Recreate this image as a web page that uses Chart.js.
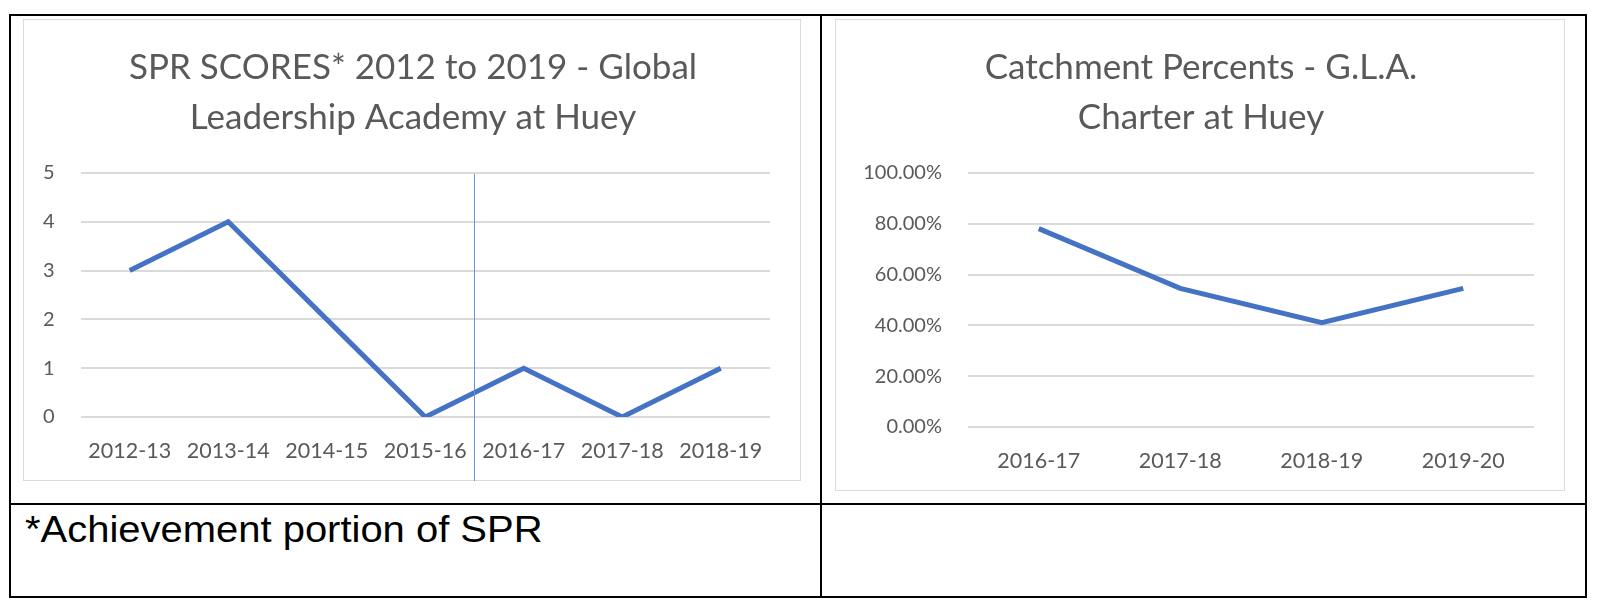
<!DOCTYPE html>
<html lang="en">
  <head>
    <meta charset="UTF-8" />
    <title>SPR Scores and Catchment Percents</title>
    <script src="https://cdn.jsdelivr.net/npm/chart.js"></script>
    <style>
      html, body { margin: 0; padding: 0; background: #fff; }
      body { width: 1600px; height: 607px; position: relative; overflow: hidden; }
      .line { position: absolute; background: #000; }
      .panel { position: absolute; border: 1.5px solid #dcdcdc; box-sizing: border-box; }
      .panel canvas { position: absolute; left: 0; top: 0; }
      .note {
        position: absolute; left: 25px; top: 509px;
        font-family: "Liberation Sans", Arial, sans-serif; font-size: 37px; color: #000;
        transform: scaleX(1.08); transform-origin: left top; white-space: nowrap;
      }
    </style>
  </head>
  <body>
    <!-- table lines -->
    <div class="line" style="left:9px;top:14px;width:1578px;height:2px"></div>
    <div class="line" style="left:9px;top:596px;width:1578px;height:2px"></div>
    <div class="line" style="left:9px;top:14px;width:2px;height:584px"></div>
    <div class="line" style="left:1585px;top:14px;width:2px;height:584px"></div>
    <div class="line" style="left:820px;top:14px;width:2px;height:584px"></div>
    <div class="line" style="left:9px;top:503px;width:1578px;height:2px"></div>

    <div class="panel" style="left:23px;top:19px;width:778px;height:462px">
      <canvas id="sprChart" width="778" height="462"></canvas>
    </div>
    <div class="panel" style="left:835px;top:19px;width:730px;height:472px">
      <canvas id="catchChart" width="730" height="472"></canvas>
    </div>

    <div class="note">*Achievement portion of SPR</div>

    <script>
      // SPR chart data
      const sprYears = ["2012-13", "2013-14", "2014-15", "2015-16", "2016-17", "2017-18", "2018-19"];
      const sprScores = [3, 4, 2, 0, 1, 0, 1];
      const sprTicks = [0, 1, 2, 3, 4, 5];
      const sprBreak = 3.5; // divider between 2015-16 and 2016-17

      // Catchment chart data
      const catchYears = ["2016-17", "2017-18", "2018-19", "2019-20"];
      const catchPercents = [0.781, 0.546, 0.411, 0.546];
      const catchTicks = [0, 0.2, 0.4, 0.6, 0.8, 1.0];

      const blue = "#4472C4";
      const grey = "#595959";
      const gridGrey = "#dadada";
      const font = "Lato, 'Open Sans', sans-serif";

      // thin vertical divider drawn from the x scale
      const dividerPlugin = {
        id: "divider",
        afterDatasetsDraw(chart) {
          const x = chart.scales.x.getPixelForValue(sprBreak);
          const ctx = chart.ctx;
          ctx.save();
          ctx.strokeStyle = "#6a8fd4";
          ctx.lineWidth = 1;
          ctx.beginPath();
          ctx.moveTo(x, chart.chartArea.top + 1);
          ctx.lineTo(x, chart.height - 1);
          ctx.stroke();
          ctx.restore();
        },
      };

      function makeOptions(titleLines, yWidth, ticks, tickFormat) {
        return {
          responsive: false,
          animation: false,
          layout: { padding: 0 },
          plugins: {
            legend: { display: false },
            tooltip: { enabled: false },
            title: {
              display: true,
              text: titleLines,
              color: grey,
              font: { family: font, size: 35, weight: "normal", lineHeight: 50 / 35 },
              padding: { top: 23, bottom: 30 },
            },
          },
          scales: {
            x: {
              offset: true,
              grid: { display: false, drawTicks: false },
              border: { display: false },
              ticks: { color: grey, font: { family: font, size: 21.5 }, padding: 21, maxRotation: 0 },
              afterFit: (s) => { s.height = 65; },
            },
            y: {
              min: ticks[0],
              max: ticks[ticks.length - 1],
              afterBuildTicks: (s) => { s.ticks = ticks.map((v) => ({ value: v })); },
              grid: { color: gridGrey, lineWidth: 2, drawTicks: false },
              border: { display: false },
              ticks: { color: grey, font: { family: font, size: 20 }, padding: 26, callback: tickFormat },
              afterFit: (s) => { s.width = yWidth; },
            },
            // empty right-hand axis, keeps the plot off the right edge
            yRight: {
              position: "right",
              grid: { display: false, drawTicks: false },
              border: { display: false },
              ticks: { display: false },
              afterFit: (s) => { s.width = 32; },
            },
          },
        };
      }

      new Chart(document.getElementById("sprChart"), {
        type: "line",
        data: {
          labels: sprYears,
          datasets: [{ data: sprScores, borderColor: blue, borderWidth: 5, pointRadius: 0, tension: 0 }],
        },
        options: makeOptions(
          ["SPR SCORES* 2012 to 2019 - Global", "Leadership Academy at Huey"],
          56.5, sprTicks, (v) => String(v)
        ),
        plugins: [dividerPlugin],
      });

      new Chart(document.getElementById("catchChart"), {
        type: "line",
        data: {
          labels: catchYears,
          datasets: [{ data: catchPercents, borderColor: blue, borderWidth: 5, pointRadius: 0, tension: 0 }],
        },
        options: makeOptions(
          ["Catchment Percents - G.L.A.", "Charter at Huey"],
          132, catchTicks, (v) => (v * 100).toFixed(2) + "%"
        ),
      });
    </script>
  </body>
</html>
